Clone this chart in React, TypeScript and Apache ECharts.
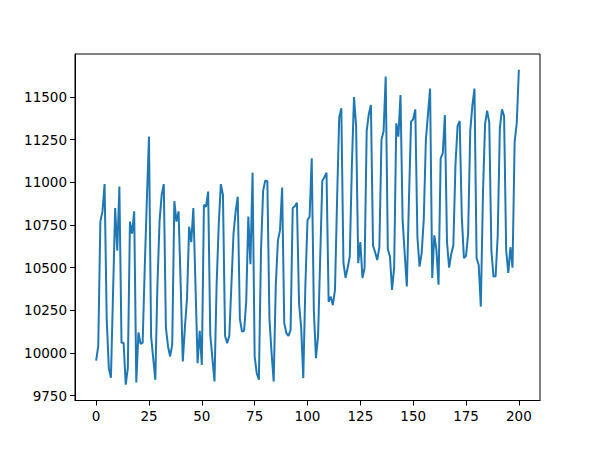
import React, { useEffect, useRef } from "react";
import * as echarts from "echarts";

const values: number[] = [
  9955, 10040, 10770, 10830, 10990, 10200, 9910, 9855, 10350, 10850,
  10600, 10975, 10060, 10060, 9814, 9913, 10770, 10700, 10830, 9827,
  10120, 10054, 10060, 10500, 10900, 11268, 10097, 9970, 9843, 10400,
  10770, 10926, 10990, 10150, 10040, 9980, 10050, 10890, 10770, 10830,
  10400, 9950, 10150, 10320, 10740, 10650, 10850, 10400, 9940, 10130,
  9930, 10868, 10858, 10946, 10107, 9970, 9833, 10400, 10750, 10990,
  10926, 10100, 10058, 10100, 10400, 10700, 10830, 10916, 10200, 10126,
  10130, 10300, 10800, 10520, 11057, 9980, 9880, 9843, 10600, 10950,
  11010, 11008, 10200, 10000, 9833, 10400, 10660, 10720, 10970, 10175,
  10117, 10100, 10136, 10850, 10860, 10880, 10290, 10150, 9853, 10400,
  10780, 10800, 11141, 10250, 9970, 10100, 10553, 11010, 11030, 11057,
  10300, 10330, 10280, 10370, 10900, 11380, 11434, 10530, 10440, 10500,
  10565, 11100, 11500, 11330, 10526, 10650, 10440, 10500, 11300, 11400,
  11453, 10630, 10590, 10545, 10620, 11250, 11300, 11620, 10610, 10565,
  10370, 10500, 11346, 11268, 11512, 10780, 10580, 10390, 10900, 11356,
  11370, 11428, 10680, 10506, 10584, 10780, 11248, 11400, 11550, 10440,
  10690, 10604, 10400, 11141, 11170, 11395, 10650, 10500, 10580, 10630,
  11100, 11330, 11360, 10800, 10556, 10570, 10700, 11300, 11450, 11550,
  10556, 10516, 10272, 10926, 11340, 11420, 11350, 10600, 10448, 10450,
  10690, 11316, 11428, 11390, 10600, 10470, 10620, 10500, 11238, 11346,
  11660,
];

const xTicks: number[] = [0, 25, 50, 75, 100, 125, 150, 175, 200];
const yTicks: number[] = [9750, 10000, 10250, 10500, 10750, 11000, 11250, 11500];

export default function App() {
  const ref = useRef<HTMLDivElement>(null);

  useEffect(() => {
    if (!ref.current) return;
    const chart = echarts.init(ref.current, undefined, { renderer: "svg" });

    const n = values.length;
    const xMinData = 0;
    const xMaxData = n - 1;
    const xPad = (xMaxData - xMinData) * 0.05;
    const yMinData = Math.min(...values);
    const yMaxData = Math.max(...values);
    const yPad = (yMaxData - yMinData) * 0.05;

    const font = "DejaVu Sans";

    chart.setOption({
      animation: false,
      backgroundColor: "#ffffff",
      grid: {
        left: 75,
        right: 60,
        top: 54,
        bottom: 49.5,
        show: true,
        borderColor: "#000000",
        borderWidth: 1,
        backgroundColor: "transparent",
      },
      xAxis: {
        type: "value",
        min: xMinData - xPad,
        max: xMaxData + xPad,
        axisLine: { show: true, onZero: false, lineStyle: { color: "#000", width: 1 } },
        axisTick: {
          show: true,
          inside: false,
          length: 5,
          lineStyle: { color: "#000", width: 1 },
          customValues: xTicks,
        },
        axisLabel: {
          show: true,
          margin: 8,
          color: "#000",
          fontFamily: font,
          fontSize: 13.5,
          customValues: xTicks,
          formatter: (v: number) => String(v),
        },
        splitLine: { show: false },
      },
      yAxis: {
        type: "value",
        min: yMinData - yPad,
        max: yMaxData + yPad,
        axisLine: { show: true, onZero: false, lineStyle: { color: "#000", width: 1 } },
        axisTick: {
          show: true,
          inside: false,
          length: 5,
          lineStyle: { color: "#000", width: 1 },
          customValues: yTicks,
        },
        axisLabel: {
          show: true,
          margin: 8,
          color: "#000",
          fontFamily: font,
          fontSize: 13.5,
          customValues: yTicks,
          formatter: (v: number) => String(v),
        },
        splitLine: { show: false },
      },
      series: [
        {
          type: "line",
          data: values.map((v, i) => [i, v]),
          showSymbol: false,
          symbol: "none",
          lineStyle: { color: "#1f77b4", width: 2 },
          itemStyle: { color: "#1f77b4" },
        },
      ],
    });

    return () => {
      chart.dispose();
    };
  }, []);

  return (
    <div
      ref={ref}
      style={{ position: "fixed", left: 0, top: 0, width: 600, height: 450, background: "#fff" }}
    />
  );
}
